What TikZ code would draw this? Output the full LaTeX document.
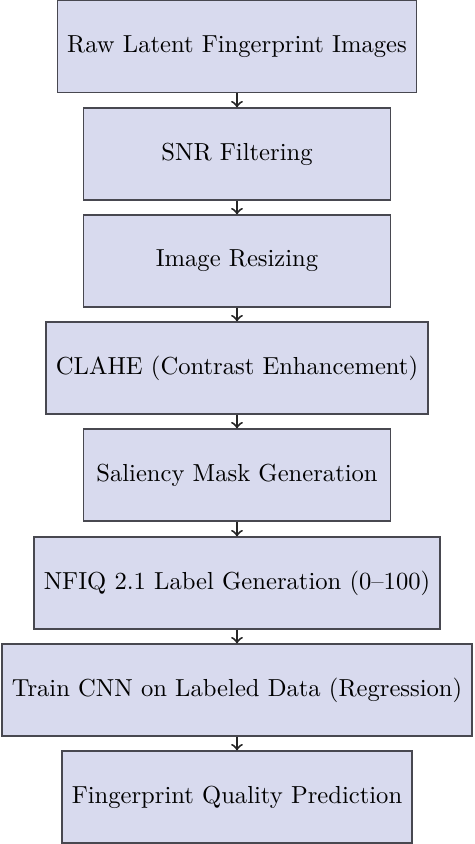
\documentclass[tikz,border=0pt]{standalone}
\usepackage{tikz}
\definecolor{stagefill}{RGB}{216,218,238}
\definecolor{stageline}{RGB}{72,72,80}
\tikzstyle{stage}=[draw=stageline, fill=stagefill, line width=0.5pt, inner sep=4pt, minimum width=124.8pt, minimum height=37.4pt]
\tikzstyle{flow}=[->, line width=0.8pt, black!85]

\begin{document}
\begin{tikzpicture}[x=0.4064pt, y=-0.4064pt]
    \useasboundingbox (0,0) rectangle (474,844);
% Stages
    \node[stage] (raw)      at (237,46.5) {Raw Latent Fingerprint Images};
    \node[stage] (snr)      at (237,154)  {SNR Filtering};
    \node[stage] (resize)   at (237,261)  {Image Resizing};
    \node[stage] (clahe)    at (237,368)  {CLAHE (Contrast Enhancement)};
    \node[stage] (saliency) at (237,475)  {Saliency Mask Generation};
    \node[stage] (nfiq)     at (237,583)  {NFIQ 2.1 Label Generation (0--100)};
    \node[stage] (train)    at (237,690)  {Train CNN on Labeled Data (Regression)};
    \node[stage] (predict)  at (237,797)  {Fingerprint Quality Prediction};
% Arrows
    \draw[flow] (raw) -- (snr);
    \draw[flow] (snr) -- (resize);
    \draw[flow] (resize) -- (clahe);
    \draw[flow] (clahe) -- (saliency);
    \draw[flow] (saliency) -- (nfiq);
    \draw[flow] (nfiq) -- (train);
    \draw[flow] (train) -- (predict);
\end{tikzpicture}
\end{document}
